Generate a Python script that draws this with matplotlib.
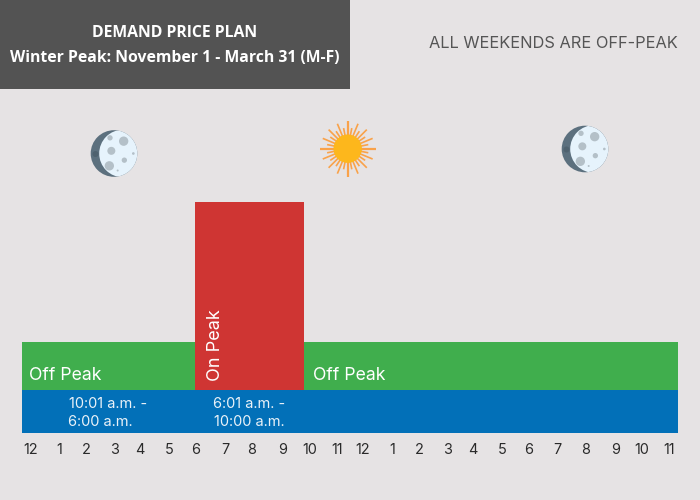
import numpy as np
import matplotlib
matplotlib.use("Agg")
import matplotlib.pyplot as plt
from matplotlib.patches import Circle, Rectangle

# --- data ---
segment_names = ["Off Peak", "On Peak", "Off Peak"]
segment_start = [0.0, 6.33, 10.32]
segment_end = [6.33, 10.32, 24.0]
segment_height = [48, 188, 48]
segment_colors = ["#40ae4d", "#cf3533", "#40ae4d"]
base_height = 43
hour_positions = [0.33, 1.35, 2.34, 3.37, 4.32, 5.38, 6.37, 7.43, 8.41, 9.55, 10.54, 11.54,
                  12.48, 13.54, 14.52, 15.56, 16.5, 17.56, 18.55, 19.58, 20.6, 21.7, 22.68, 23.67]
hour_labels = ["12", "1", "2", "3", "4", "5", "6", "7", "8", "9", "10", "11",
               "12", "1", "2", "3", "4", "5", "6", "7", "8", "9", "10", "11"]

BG = "#e6e3e4"
W, H = 700, 500
TEXT_FONT = ["Inter", "DejaVu Sans"]

fig = plt.figure(figsize=(7, 5), dpi=100, facecolor=BG)

# Main chart axes
ax = fig.add_axes([22 / W, (H - 433) / H, 656 / W, 231 / H])
ax.set_facecolor("none")
ax.bar([0], [base_height], width=24, align="edge", color="#0270b8", zorder=1)
for s, e, h, c in zip(segment_start, segment_end, segment_height, segment_colors):
    ax.bar(s, h, width=e - s, bottom=base_height, align="edge", color=c, zorder=2)
ax.set_xlim(0, 24)
ax.set_ylim(0, 231)
for sp in ax.spines.values():
    sp.set_visible(False)
ax.set_yticks([])
ax.set_xticks(hour_positions)
ax.set_xticklabels(hour_labels, fontsize=10.4, color="#2a2a2a", family=TEXT_FONT)
ax.tick_params(axis="x", length=0, pad=7.5)

# Overlay in pixel coordinates for header, captions and icons
ov = fig.add_axes([0, 0, 1, 1], facecolor="none")
ov.set_xlim(0, W)
ov.set_ylim(H, 0)
ov.axis("off")

ov.add_patch(Rectangle((0, 0), 350, 89, color="#535353", lw=0))
ov.text(175, 33, "DEMAND PRICE PLAN", color="white", ha="center", va="center",
        fontsize=11.3, fontweight="bold", family="Open Sans")
ov.text(175, 58, "Winter Peak: November 1 - March 31 (M-F)", color="white", ha="center", va="center",
        fontsize=11.3, fontweight="bold", family="Open Sans")
ov.text(678, 43.5, "ALL WEEKENDS ARE OFF-PEAK", color="#555555", ha="right", va="center",
        fontsize=11.8, family="Inter")

ov.text(29, 375, segment_names[0], color="white", ha="left", va="center", fontsize=12.7, family=TEXT_FONT)
ov.text(313, 375, segment_names[2], color="white", ha="left", va="center", fontsize=12.7, family=TEXT_FONT)
ov.text(215, 345.5, segment_names[1], color="white", ha="center", va="center", rotation=90,
        fontsize=13, family=TEXT_FONT)
for x, y, t in [(69, 403.5, "10:01 a.m. -"), (68, 421.5, "6:00 a.m."),
                (213, 403.5, "6:01 a.m. -"), (214, 421.5, "10:00 a.m.")]:
    ov.text(x, y, t, color="#eaf2f8", ha="left", va="center", fontsize=10.5, family=TEXT_FONT)


def moon(cx, cy, r=23.3):
    dark = Circle((cx, cy), r, color="#5c707e", lw=0, zorder=3)
    ov.add_patch(dark)
    light = Circle((cx + 9, cy), r + 0.5, color="#e6f3fc", lw=0, zorder=4)
    ov.add_patch(light)
    light.set_clip_path(dark)
    for zx, zy, zr in [(120, 83, 8), (161, 93, 14), (124, 122, 12), (163, 150, 8),
                       (118, 167, 14), (190, 130, 4), (143, 181, 3)]:
        ov.add_patch(Circle((cx + (zx - 132) / 3, cy + (zy - 130) / 3), zr / 3,
                            color="#b4c0c8", lw=0, zorder=5))
    ov.add_patch(Circle((cx - 18.5, cy + 0.5), 3, color="#4f626f", lw=0, zorder=3.5))


moon(114, 153.5)
moon(585, 149)

# Sun
sx, sy = 347.7, 148.7
ov.add_patch(Circle((sx, sy), 14.2, color="#fdb71c", lw=0, zorder=4))
n_rays = 32
for i in range(n_rays):
    a = 2 * np.pi * i / n_rays
    major = i % 8 == 0
    L = 28 if major else (27 if i % 2 == 0 else 21)
    ov.plot([sx + 12 * np.cos(a), sx + L * np.cos(a)], [sy + 12 * np.sin(a), sy + L * np.sin(a)],
            color="#f9a24a", lw=1.6 if major else 1.2, solid_capstyle="butt", zorder=3)

fig.savefig("out.png", dpi=100, facecolor=BG)
